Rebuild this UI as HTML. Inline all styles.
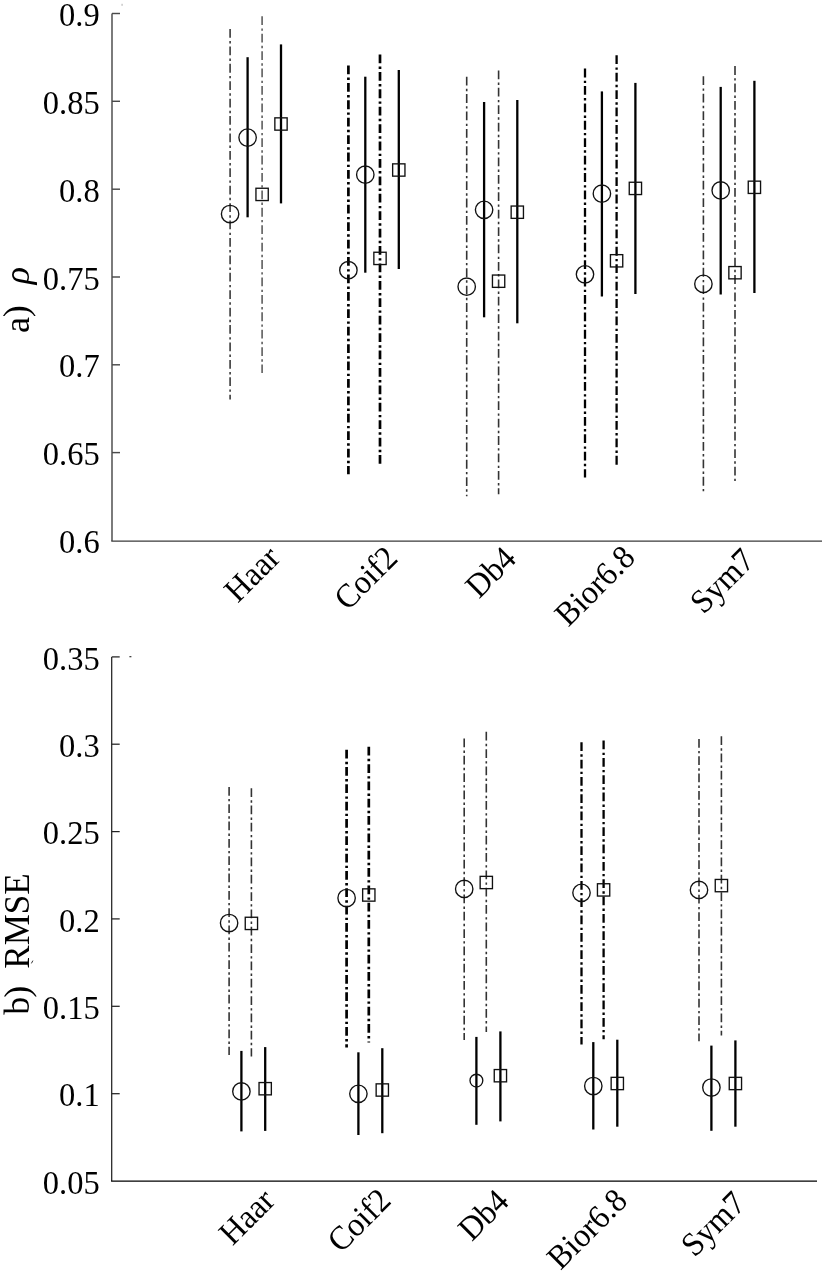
<!DOCTYPE html>
<html><head><meta charset="utf-8"><title>Chart</title>
<style>html,body{margin:0;padding:0;background:#fff;width:825px;height:1274px;overflow:hidden} svg{display:block}</style>
</head><body>
<svg width="825" height="1274" viewBox="0 0 825 1274">
<style>.t{font-family:"Liberation Serif","Times New Roman",serif;font-size:34px;fill:#000} .x{font-family:"Liberation Serif","Times New Roman",serif;font-size:33.5px;fill:#000} .l{font-family:"Liberation Serif","Times New Roman",serif;font-size:36px;fill:#000}</style>
<rect width="825" height="1274" fill="#fff"/>
<path d="M112 13.5V540.9" fill="none" stroke="#4a4a4a" stroke-width="1.45"/>
<path d="M111.275 541.1H822" fill="none" stroke="#3a3a3a" stroke-width="1.3"/>
<path d="M112 13.5H120" stroke="#4a4a4a" stroke-width="1.45"/>
<text transform="translate(99.7,26.1) scale(0.957,1)" text-anchor="end" class="t">0.9</text>
<path d="M112 101.3H120" stroke="#4a4a4a" stroke-width="1.45"/>
<text transform="translate(99.7,113.9) scale(0.957,1)" text-anchor="end" class="t">0.85</text>
<path d="M112 189.2H120" stroke="#4a4a4a" stroke-width="1.45"/>
<text transform="translate(99.7,201.8) scale(0.957,1)" text-anchor="end" class="t">0.8</text>
<path d="M112 277.0H120" stroke="#4a4a4a" stroke-width="1.45"/>
<text transform="translate(99.7,289.6) scale(0.957,1)" text-anchor="end" class="t">0.75</text>
<path d="M112 364.8H120" stroke="#4a4a4a" stroke-width="1.45"/>
<text transform="translate(99.7,377.4) scale(0.957,1)" text-anchor="end" class="t">0.7</text>
<path d="M112 452.6H120" stroke="#4a4a4a" stroke-width="1.45"/>
<text transform="translate(99.7,465.2) scale(0.957,1)" text-anchor="end" class="t">0.65</text>
<text transform="translate(99.7,553.1) scale(0.957,1)" text-anchor="end" class="t">0.6</text>
<path d="M111.7 656.9V1181.1" fill="none" stroke="#222" stroke-width="1.25"/>
<path d="M111.075 1181.22H817" fill="none" stroke="#000" stroke-width="1.25"/>
<path d="M111.7 656.9H119.7" stroke="#222" stroke-width="1.25"/>
<text transform="translate(99.7,669.5) scale(0.957,1)" text-anchor="end" class="t">0.35</text>
<path d="M111.7 744.2H119.7" stroke="#222" stroke-width="1.25"/>
<text transform="translate(99.7,756.9) scale(0.957,1)" text-anchor="end" class="t">0.3</text>
<path d="M111.7 831.6H119.7" stroke="#222" stroke-width="1.25"/>
<text transform="translate(99.7,844.2) scale(0.957,1)" text-anchor="end" class="t">0.25</text>
<path d="M111.7 918.9H119.7" stroke="#222" stroke-width="1.25"/>
<text transform="translate(99.7,931.5) scale(0.957,1)" text-anchor="end" class="t">0.2</text>
<path d="M111.7 1006.3H119.7" stroke="#222" stroke-width="1.25"/>
<text transform="translate(99.7,1018.9) scale(0.957,1)" text-anchor="end" class="t">0.15</text>
<path d="M111.7 1093.7H119.7" stroke="#222" stroke-width="1.25"/>
<text transform="translate(99.7,1106.2) scale(0.957,1)" text-anchor="end" class="t">0.1</text>
<text transform="translate(99.7,1193.6) scale(0.957,1)" text-anchor="end" class="t">0.05</text>
<path d="M230.1 28.4V399.5" stroke="#3a3a3a" stroke-width="1.6" stroke-dasharray="8.8 3.3 2.4 2.915" stroke-dashoffset="-0.6"/>
<path d="M247.6 57.2V217.3" stroke="#000" stroke-width="2.3"/>
<path d="M262.1 15.7V373.1" stroke="#5e5e5e" stroke-width="1.6" stroke-dasharray="8.8 3.3 2.4 2.915" stroke-dashoffset="-0.6"/>
<path d="M281.0 44.4V203.4" stroke="#000" stroke-width="2.3"/>
<path d="M348.4 64.9V474.3" stroke="#000" stroke-width="2.7" stroke-dasharray="8.8 3.3 2.4 2.915" stroke-dashoffset="-0.6"/>
<path d="M365.3 76.7V272.7" stroke="#000" stroke-width="2.3"/>
<path d="M380.0 53.9V463.7" stroke="#000" stroke-width="2.7" stroke-dasharray="8.8 3.3 2.4 2.915" stroke-dashoffset="-0.6"/>
<path d="M398.8 70.0V269.0" stroke="#000" stroke-width="2.3"/>
<path d="M466.7 76.1V496.3" stroke="#333" stroke-width="1.6" stroke-dasharray="8.8 3.3 2.4 2.915" stroke-dashoffset="-0.6"/>
<path d="M484.1 102.0V317.3" stroke="#000" stroke-width="2.3"/>
<path d="M498.6 69.8V494.3" stroke="#333" stroke-width="1.6" stroke-dasharray="8.8 3.3 2.4 2.915" stroke-dashoffset="-0.6"/>
<path d="M517.3 100.0V323.3" stroke="#000" stroke-width="2.3"/>
<path d="M585.0 68.0V477.6" stroke="#000" stroke-width="2.3" stroke-dasharray="8.8 3.3 2.4 2.915" stroke-dashoffset="-0.6"/>
<path d="M601.9 91.4V296.5" stroke="#000" stroke-width="2.3"/>
<path d="M616.6 54.7V464.7" stroke="#000" stroke-width="2.3" stroke-dasharray="8.8 3.3 2.4 2.915" stroke-dashoffset="-0.6"/>
<path d="M635.4 82.9V294.0" stroke="#000" stroke-width="2.3"/>
<path d="M703.4 75.7V491.2" stroke="#333" stroke-width="1.6" stroke-dasharray="8.8 3.3 2.4 2.915" stroke-dashoffset="-0.6"/>
<path d="M720.7 86.9V294.5" stroke="#000" stroke-width="2.3"/>
<path d="M735.0 65.5V481.0" stroke="#333" stroke-width="1.6" stroke-dasharray="8.8 3.3 2.4 2.915" stroke-dashoffset="-0.6"/>
<path d="M754.4 80.8V293.0" stroke="#000" stroke-width="2.3"/>
<circle cx="230.1" cy="214.0" r="8.7" fill="none" stroke="#111" stroke-width="1.35"/>
<circle cx="247.6" cy="137.6" r="8.7" fill="none" stroke="#111" stroke-width="1.35"/>
<rect x="255.95" y="188.25" width="12.3" height="12.3" fill="none" stroke="#111" stroke-width="1.35"/>
<rect x="274.85" y="117.85" width="12.3" height="12.3" fill="none" stroke="#111" stroke-width="1.35"/>
<circle cx="348.4" cy="270.2" r="8.7" fill="none" stroke="#111" stroke-width="1.35"/>
<circle cx="365.3" cy="174.7" r="8.7" fill="none" stroke="#111" stroke-width="1.35"/>
<rect x="373.85" y="252.25" width="12.3" height="12.3" fill="none" stroke="#111" stroke-width="1.35"/>
<rect x="392.65" y="163.85" width="12.3" height="12.3" fill="none" stroke="#111" stroke-width="1.35"/>
<circle cx="466.7" cy="286.7" r="8.7" fill="none" stroke="#111" stroke-width="1.35"/>
<circle cx="484.1" cy="209.8" r="8.7" fill="none" stroke="#111" stroke-width="1.35"/>
<rect x="492.45" y="275.05" width="12.3" height="12.3" fill="none" stroke="#111" stroke-width="1.35"/>
<rect x="511.15" y="206.05" width="12.3" height="12.3" fill="none" stroke="#111" stroke-width="1.35"/>
<circle cx="585.0" cy="274.3" r="8.7" fill="none" stroke="#111" stroke-width="1.35"/>
<circle cx="601.9" cy="193.7" r="8.7" fill="none" stroke="#111" stroke-width="1.35"/>
<rect x="610.45" y="254.65" width="12.3" height="12.3" fill="none" stroke="#111" stroke-width="1.35"/>
<rect x="629.25" y="182.25" width="12.3" height="12.3" fill="none" stroke="#111" stroke-width="1.35"/>
<circle cx="703.4" cy="283.9" r="8.7" fill="none" stroke="#111" stroke-width="1.35"/>
<circle cx="720.7" cy="190.4" r="8.7" fill="none" stroke="#111" stroke-width="1.35"/>
<rect x="728.85" y="266.55" width="12.3" height="12.3" fill="none" stroke="#111" stroke-width="1.35"/>
<rect x="748.25" y="181.15" width="12.3" height="12.3" fill="none" stroke="#111" stroke-width="1.35"/>
<path d="M229.1 786.9V1055.0" stroke="#333" stroke-width="1.6" stroke-dasharray="8.75 3.28 2.4 2.9" stroke-dashoffset="0"/>
<path d="M251.4 788.2V1056.5" stroke="#333" stroke-width="1.6" stroke-dasharray="8.75 3.28 2.4 2.9" stroke-dashoffset="0"/>
<path d="M241.4 1050.9V1131.4" stroke="#000" stroke-width="2.3"/>
<path d="M265.2 1047.1V1130.9" stroke="#000" stroke-width="2.3"/>
<path d="M346.6 749.7V1047.6" stroke="#000" stroke-width="2.7" stroke-dasharray="8.75 3.28 2.4 2.9" stroke-dashoffset="0"/>
<path d="M368.8 746.8V1042.4" stroke="#000" stroke-width="2.7" stroke-dasharray="8.75 3.28 2.4 2.9" stroke-dashoffset="0"/>
<path d="M358.4 1052.3V1135.0" stroke="#000" stroke-width="2.3"/>
<path d="M382.3 1048.2V1133.2" stroke="#000" stroke-width="2.3"/>
<path d="M464.2 738.5V1040.1" stroke="#333" stroke-width="1.6" stroke-dasharray="8.75 3.28 2.4 2.9" stroke-dashoffset="0"/>
<path d="M486.3 731.8V1031.9" stroke="#333" stroke-width="1.6" stroke-dasharray="8.75 3.28 2.4 2.9" stroke-dashoffset="0"/>
<path d="M476.4 1036.9V1124.8" stroke="#000" stroke-width="2.3"/>
<path d="M500.4 1031.4V1121.4" stroke="#000" stroke-width="2.3"/>
<path d="M581.5 742.3V1044.5" stroke="#000" stroke-width="2.3" stroke-dasharray="8.75 3.28 2.4 2.9" stroke-dashoffset="0"/>
<path d="M603.6 740.6V1039.3" stroke="#000" stroke-width="2.3" stroke-dasharray="8.75 3.28 2.4 2.9" stroke-dashoffset="0"/>
<path d="M593.3 1042.1V1129.5" stroke="#000" stroke-width="2.3"/>
<path d="M617.3 1039.7V1126.7" stroke="#000" stroke-width="2.3"/>
<path d="M699.0 738.9V1041.3" stroke="#333" stroke-width="1.6" stroke-dasharray="8.75 3.28 2.4 2.9" stroke-dashoffset="0"/>
<path d="M721.4 736.2V1035.4" stroke="#333" stroke-width="1.6" stroke-dasharray="8.75 3.28 2.4 2.9" stroke-dashoffset="0"/>
<path d="M711.4 1045.6V1130.8" stroke="#000" stroke-width="2.3"/>
<path d="M735.4 1040.4V1126.7" stroke="#000" stroke-width="2.3"/>
<circle cx="229.1" cy="923.0" r="8.7" fill="none" stroke="#111" stroke-width="1.35"/>
<rect x="245.25" y="917.25" width="12.3" height="12.3" fill="none" stroke="#111" stroke-width="1.35"/>
<circle cx="241.4" cy="1091.4" r="8.7" fill="none" stroke="#111" stroke-width="1.35"/>
<rect x="259.05" y="1082.55" width="12.3" height="12.3" fill="none" stroke="#111" stroke-width="1.35"/>
<circle cx="346.6" cy="898.0" r="8.7" fill="none" stroke="#111" stroke-width="1.35"/>
<rect x="362.65" y="888.85" width="12.3" height="12.3" fill="none" stroke="#111" stroke-width="1.35"/>
<circle cx="358.4" cy="1093.8" r="8.7" fill="none" stroke="#111" stroke-width="1.35"/>
<rect x="376.15" y="1083.85" width="12.3" height="12.3" fill="none" stroke="#111" stroke-width="1.35"/>
<circle cx="464.2" cy="888.9" r="8.7" fill="none" stroke="#111" stroke-width="1.35"/>
<rect x="480.15" y="876.35" width="12.3" height="12.3" fill="none" stroke="#111" stroke-width="1.35"/>
<circle cx="476.4" cy="1080.6" r="6.4" fill="none" stroke="#111" stroke-width="1.35"/>
<rect x="494.25" y="1069.55" width="12.3" height="12.3" fill="none" stroke="#111" stroke-width="1.35"/>
<circle cx="581.5" cy="892.8" r="8.7" fill="none" stroke="#111" stroke-width="1.35"/>
<rect x="597.45" y="883.75" width="12.3" height="12.3" fill="none" stroke="#111" stroke-width="1.35"/>
<circle cx="593.3" cy="1086.0" r="8.7" fill="none" stroke="#111" stroke-width="1.35"/>
<rect x="611.15" y="1077.35" width="12.3" height="12.3" fill="none" stroke="#111" stroke-width="1.35"/>
<circle cx="699.0" cy="889.9" r="8.7" fill="none" stroke="#111" stroke-width="1.35"/>
<rect x="715.25" y="879.45" width="12.3" height="12.3" fill="none" stroke="#111" stroke-width="1.35"/>
<circle cx="711.4" cy="1087.5" r="8.7" fill="none" stroke="#111" stroke-width="1.35"/>
<rect x="729.25" y="1077.35" width="12.3" height="12.3" fill="none" stroke="#111" stroke-width="1.35"/>
<text class="x" transform="translate(281.8,559.7) rotate(-45) scale(0.955,1)" text-anchor="end">Haar</text>
<text class="x" transform="translate(399.2,559.9) rotate(-45) scale(0.955,1)" text-anchor="end">Coif2</text>
<text class="x" transform="translate(517.9,560.5) rotate(-45) scale(0.955,1)" text-anchor="end">Db4</text>
<text class="x" transform="translate(636.8,559.3) rotate(-45) scale(0.955,1)" text-anchor="end">Bior6.8</text>
<text class="x" transform="translate(756.4,562.3) rotate(-45) scale(0.955,1)" text-anchor="end">Sym7</text>
<text class="x" transform="translate(276.5,1202.5) rotate(-45) scale(0.955,1)" text-anchor="end">Haar</text>
<text class="x" transform="translate(392.5,1202.3) rotate(-45) scale(0.955,1)" text-anchor="end">Coif2</text>
<text class="x" transform="translate(510.6,1203.3) rotate(-45) scale(0.955,1)" text-anchor="end">Db4</text>
<text class="x" transform="translate(629.0,1202.4) rotate(-45) scale(0.955,1)" text-anchor="end">Bior6.8</text>
<text class="x" transform="translate(747.2,1205.3) rotate(-45) scale(0.955,1)" text-anchor="end">Sym7</text>
<rect x="121.3" y="3.8" width="1.6" height="2" fill="#ccc"/>
<rect x="129.4" y="656" width="2" height="1.3" fill="#444"/>
<path d="M31.4 963.4L32.9 960.6" stroke="#333" stroke-width="1"/>
<text class="l" transform="rotate(-90)"><tspan x="-333" y="29.2">a</tspan><tspan x="-317.2" y="28.05">)</tspan> <tspan x="-284.2" y="29.15" font-style="italic">ρ</tspan></text>
<text class="l" transform="rotate(-90)"><tspan x="-1014.7" y="29">b</tspan><tspan x="-997.85" y="28.85">)</tspan> <tspan x="-968.7" y="29" style="font-size:35px">RMSE</tspan></text>
</svg>
</body></html>
